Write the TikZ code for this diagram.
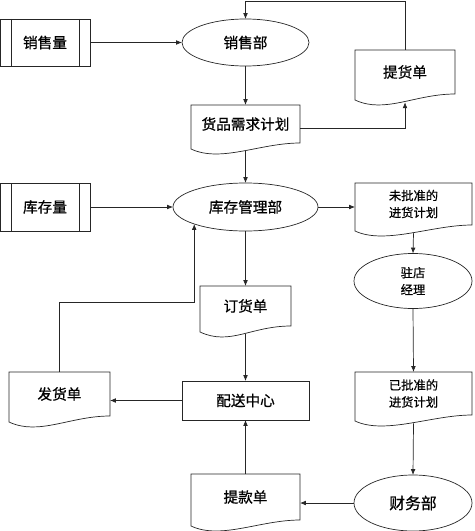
\documentclass[tikz,border=0pt]{standalone}
\usepackage{fontspec}
\setmainfont{Noto Sans CJK SC}[FakeBold=0.6]
\usetikzlibrary{shapes.geometric,arrows.meta}
\tikzset{
  base/.style={draw=black!85,line width=0.6pt,inner sep=0pt,outer sep=0pt,
    font=\fontsize{12.5}{15}\selectfont},
  store/.style={base,rectangle,path picture={
      \draw[black!85,line width=0.6pt] ([xshift=0.33cm]path picture bounding box.north west)
        -- ([xshift=0.33cm]path picture bounding box.south west);
      \draw[black!85,line width=0.6pt] ([xshift=-0.33cm]path picture bounding box.north east)
        -- ([xshift=-0.33cm]path picture bounding box.south east);}},
  dept/.style={base,ellipse},
  boxnode/.style={base,rectangle},
  docbox/.style={base,draw=none,rectangle},
  small/.style={font=\fontsize{10.5}{14.5}\selectfont,align=center},
  arr/.style={-{Latex[length=5pt,width=4pt]}},
  conn/.style={draw=black!85,line width=0.6pt}
}
% document outline: straight top and sides, wavy bottom
\newcommand\docwave[1]{%
  \draw[conn] (#1.north west) -- ([yshift=-0.18cm]#1.south west)
    .. controls +(30,14) and +(-40,0) .. node[coordinate,pos=0.5] (#1w) {} (#1.south east)
    -- (#1.north east) -- cycle;}
\begin{document}
\begin{tikzpicture}[x=0.03cm,y=-0.03cm]
\useasboundingbox (0,0) rectangle (474,531);
\path (45,42.5) node[store,minimum width=2.7cm,minimum height=1.41cm] (xsl) {销售量}
      (245.5,42.5) node[dept,minimum width=3.81cm,minimum height=1.41cm] (xsb) {销售部}
      (405,72) node[docbox,minimum width=3cm,minimum height=1.32cm] (thd) {提货单}
      (245.5,124) node[docbox,minimum width=3.27cm,minimum height=1.14cm] (hpj) {货品需求计划}
      (45,207) node[store,minimum width=2.7cm,minimum height=1.44cm] (kcl) {库存量}
      (245.5,207) node[dept,minimum width=4.35cm,minimum height=1.44cm] (kcb) {库存管理部}
      (413.5,204) node[docbox,small,minimum width=3.51cm,minimum height=1.26cm] (wpz) {未批准的\\进货计划}
      (413,281) node[dept,small,minimum width=3.54cm,minimum height=1.65cm] (zd) {驻店\\经理}
      (245.5,306) node[docbox,minimum width=2.73cm,minimum height=1.2cm] (dhd) {订货单}
      (59.5,394) node[docbox,minimum width=3.03cm,minimum height=1.32cm] (fhd) {发货单}
      (245.5,400.5) node[boxnode,minimum width=3.81cm,minimum height=1.17cm] (psz) {配送中心}
      (413.5,393.5) node[docbox,small,minimum width=3.51cm,minimum height=1.29cm] (ypz) {已批准的\\进货计划}
      (245.5,497) node[docbox,minimum width=3.27cm,minimum height=1.38cm] (tkd) {提款单}
      (413,503) node[dept,font=\fontsize{13.5}{16}\selectfont,minimum width=3.54cm,minimum height=1.68cm] (cwb) {财务部};
\docwave{thd}
\docwave{hpj}
\docwave{wpz}
\docwave{dhd}
\docwave{fhd}
\docwave{ypz}
\docwave{tkd}
\coordinate (loop) at (405,1);
\draw[conn,arr] (xsl.east) -- (xsb.west);
\draw[conn,arr] (thd.north) -- (loop) -| (xsb.north);
\draw[conn,arr] (xsb.south) -- (hpj.north);
\draw[conn,arr] ([yshift=-0.12cm]hpj.east) -| (thd.south |- thdw);
\draw[conn,arr] (hpj.south |- hpjw) -- (kcb.north);
\draw[conn,arr] (kcl.east) -- (kcb.west);
\draw[conn,arr] (kcb.east) -- (kcb.east -| wpz.west);
\draw[conn,arr] (wpz.south |- wpzw) -- (zd.north);
\draw[conn,arr] (zd.south) -- (ypz.north);
\draw[conn,arr] (ypz.south |- ypzw) -- (cwb.north);
\draw[conn,arr] (cwb.west) -- (cwb.west -| tkd.east);
\draw[conn,arr] (tkd.north) -- (psz.south);
\draw[conn,arr] (psz.west) -- (psz.west -| fhd.east);
\draw[conn,arr] (fhd.north) -- ++(0,-70) -| (kcb.south west);
\draw[conn,arr] (kcb.south) -- (dhd.north);
\draw[conn,arr] (dhd.south |- dhdw) -- (psz.north);
\end{tikzpicture}
\end{document}
